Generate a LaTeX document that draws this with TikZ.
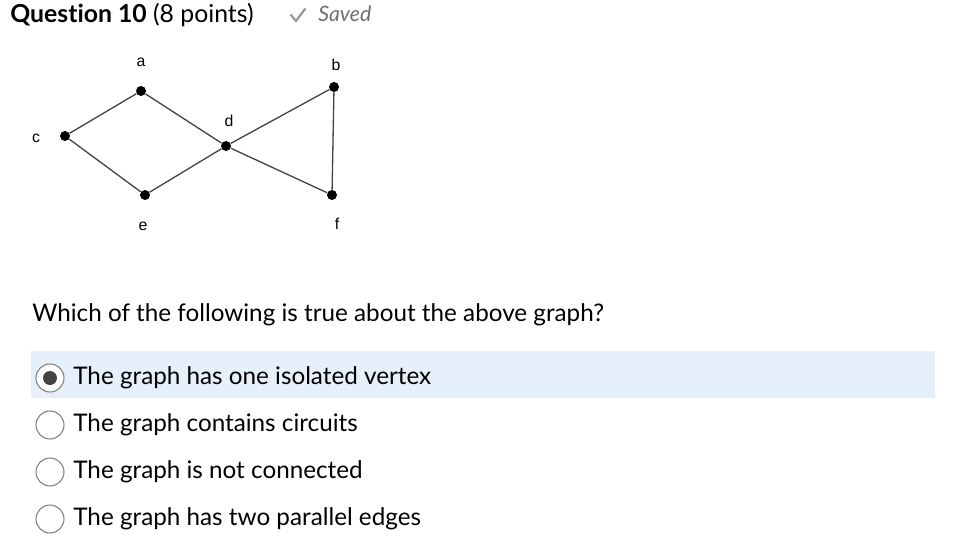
\documentclass[tikz,border=0pt]{standalone}
\usepackage{fontspec}
\setmainfont{Lato}[Ligatures=NoCommon]
\newfontfamily\labelfont{Liberation Sans}
\usetikzlibrary{positioning}

\definecolor{bandblue}{HTML}{E6F0FA}
\definecolor{edgegray}{HTML}{444444}
\definecolor{savedgray}{HTML}{6E6E6E}

\tikzset{
  vertex/.style={circle,fill=black,inner sep=0pt,minimum size=0.2cm},
  vlabel/.style={font=\labelfont\fontsize{9}{10}\selectfont,inner sep=0pt},
  edge/.style={draw=edgegray,line width=0.75pt},
  txt/.style={anchor=base west,inner sep=0pt,font=\fontsize{13.8}{16}\selectfont},
  radio/.style={circle,draw=gray,line width=0.6pt,fill=white,inner sep=0pt,minimum size=0.56cm}
}

\begin{document}
\begin{tikzpicture}[x=0.02cm,y=-0.02cm]
\useasboundingbox (0,0) rectangle (979,547);

%Draw header
\node[txt,font=\fontsize{14.1}{16}\selectfont] (qhead) at (10,23) {\textbf{Question 10} (8 points)};
\draw [savedgray!70,line width=1.3pt,line cap=round,line join=round] (291,15) -- (296,21) -- (305,9);
\node[txt,font=\fontsize{12.1}{14}\selectfont\itshape,text=savedgray] (saved) at (318,22) {Saved};

%Draw vertices
\node[vertex] (a) at (141,91) {};
\node[vertex] (b) at (334,87) {};
\node[vertex] (c) at (65,136) {};
\node[vertex] (d) at (226,146) {};
\node[vertex] (e) at (145,195) {};
\node[vertex] (f) at (332,195) {};

%Draw vertex labels
\node[vlabel] (la) at (141,62) {a};
\node[vlabel] (lb) at (336,65) {b};
\node[vlabel] (lc) at (36,138) {c};
\node[vlabel] (ld) at (229,121) {d};
\node[vlabel] (le) at (143,226) {e};
\node[vlabel] (lf) at (337,224) {f};

%Draw edges
\draw [edge] (c) -- (a) -- (d) -- (b) -- (f) -- (d) -- (e) -- (c);

%Draw question
\node[txt] (question) at (32,321) {Which of the following is true about the above graph?};

%Draw answers
\fill [bandblue] (31,351) rectangle (935,398);
\node[radio] (r1) at (50,378) {};
\fill [edgegray] (r1) circle[radius=7];
\node[radio] (r2) at (50,425) {};
\node[radio] (r3) at (50,472) {};
\node[radio] (r4) at (50,519) {};
\node[txt] (t1) at (73,384) {The graph has one isolated vertex};
\node[txt] (t2) at (73,431) {The graph contains circuits};
\node[txt] (t3) at (73,478) {The graph is not connected};
\node[txt] (t4) at (73,525) {The graph has two parallel edges};
\end{tikzpicture}
\end{document}
